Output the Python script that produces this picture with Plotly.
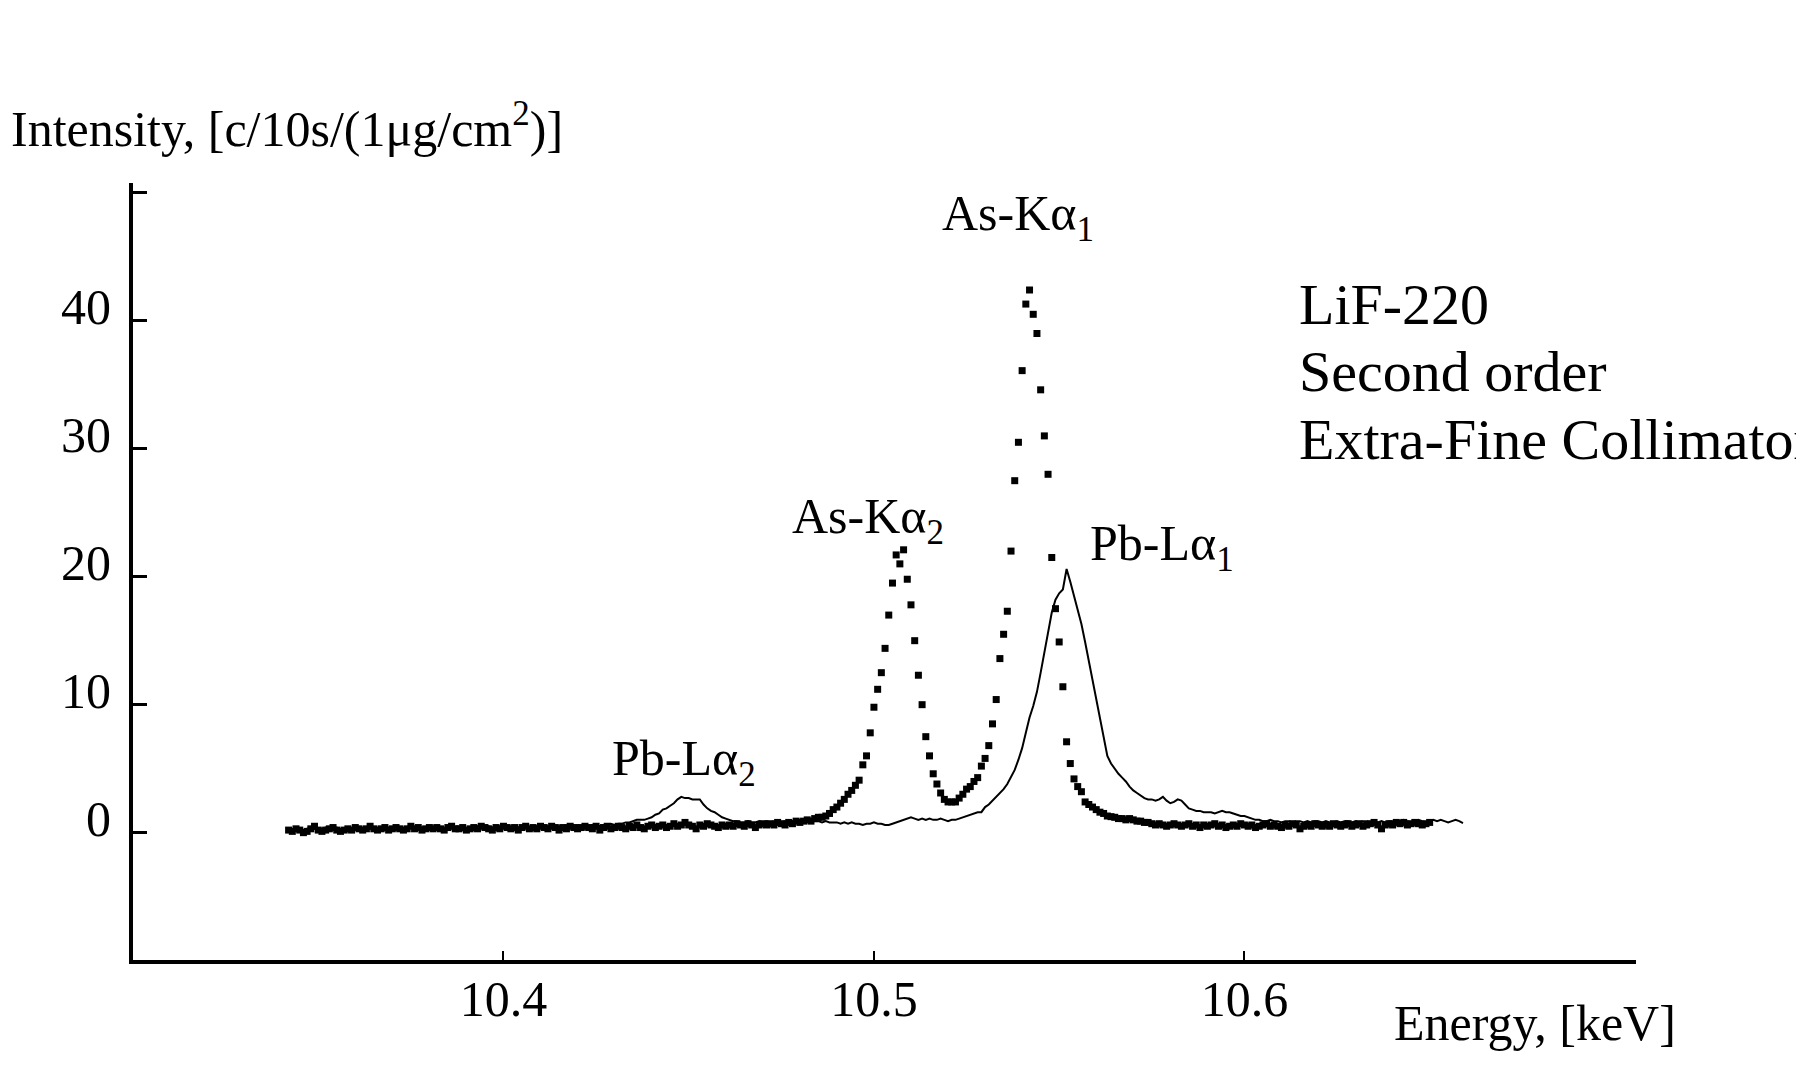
import plotly.graph_objects as go

# ---- data ----
energy_start = 10.342   # keV
energy_step = 0.001     # keV

as_counts = [
    0.2, 0.1, 0.3, 0.2, 0.0, 0.1, 0.3, 0.5, 0.2, 0.1,
    0.2, 0.3, 0.4, 0.2, 0.1, 0.2, 0.3, 0.2, 0.4, 0.3,
    0.2, 0.3, 0.5, 0.3, 0.2, 0.3, 0.4, 0.2, 0.3, 0.4,
    0.3, 0.2, 0.3, 0.5, 0.3, 0.4, 0.2, 0.3, 0.4, 0.3,
    0.4, 0.3, 0.2, 0.4, 0.5, 0.3, 0.3, 0.4, 0.2, 0.3,
    0.4, 0.3, 0.5, 0.4, 0.3, 0.2, 0.4, 0.3, 0.5, 0.4,
    0.3, 0.4, 0.2, 0.4, 0.5, 0.3, 0.4, 0.3, 0.5, 0.4,
    0.3, 0.5, 0.4, 0.2, 0.4, 0.3, 0.5, 0.4, 0.3, 0.4,
    0.5, 0.4, 0.3, 0.5, 0.2, 0.4, 0.5, 0.3, 0.4, 0.5,
    0.4, 0.3, 0.5, 0.4, 0.6, 0.4, 0.3, 0.5, 0.6, 0.4,
    0.5, 0.6, 0.4, 0.5, 0.7, 0.5, 0.6, 0.8, 0.6, 0.5,
    0.3, 0.6, 0.5, 0.7, 0.6, 0.5, 0.4, 0.6, 0.5, 0.6,
    0.5, 0.7, 0.6, 0.5, 0.7, 0.6, 0.4, 0.6, 0.7, 0.6,
    0.7, 0.6, 0.8, 0.7, 0.6, 0.8, 0.7, 0.9, 0.8, 0.9,
    1.0, 0.9, 1.1, 1.2, 1.2, 1.3, 1.5, 1.8, 2.0, 2.3,
    2.6, 3.0, 3.3, 3.7, 4.1, 5.3, 6.0, 7.8, 9.8, 11.2,
    12.5, 14.4, 17.0, 19.5, 21.7, 21.0, 22.1, 19.8, 17.8, 15.0,
    12.3, 10.0, 7.5, 6.0, 4.6, 3.8, 3.1, 2.6, 2.4, 2.4,
    2.4, 2.7, 3.0, 3.4, 3.6, 4.0, 4.3, 5.2, 5.8, 6.8,
    8.5, 10.4, 13.6, 15.5, 17.3, 22.0, 27.5, 30.5, 36.1, 41.3,
    42.4, 40.5, 39.0, 34.6, 31.0, 28.0, 21.5, 17.5, 14.9, 11.4,
    7.1, 5.4, 4.2, 3.6, 3.2, 2.4, 2.2, 2.0, 1.8, 1.6,
    1.5, 1.3, 1.25, 1.2, 1.1, 1.1, 1.0, 1.1, 1.0, 0.9,
    0.9, 0.8, 0.8, 0.7, 0.6, 0.7, 0.6, 0.5, 0.6, 0.7,
    0.6, 0.5, 0.6, 0.7, 0.5, 0.6, 0.4, 0.6, 0.5, 0.6,
    0.7, 0.5, 0.6, 0.4, 0.5, 0.6, 0.5, 0.7, 0.6, 0.5,
    0.6, 0.4, 0.5, 0.6, 0.7, 0.5, 0.6, 0.5, 0.4, 0.6,
    0.5, 0.7, 0.6, 0.3, 0.5, 0.6, 0.5, 0.7, 0.6, 0.5,
    0.6, 0.5, 0.7, 0.6, 0.5, 0.6, 0.7, 0.5, 0.6, 0.7,
    0.5, 0.6, 0.7, 0.8, 0.6, 0.3, 0.6, 0.7, 0.6, 0.8,
    0.7, 0.8, 0.6, 0.7, 0.8, 0.7, 0.6, 0.7, 0.8,
]

pb_counts = [
    0.3, 0.2, 0.4, 0.3, 0.2, 0.3, 0.4, 0.3, 0.2, 0.3,
    0.4, 0.3, 0.3, 0.4, 0.3, 0.2, 0.4, 0.3, 0.4, 0.3,
    0.3, 0.4, 0.3, 0.4, 0.3, 0.4, 0.3, 0.4, 0.4, 0.3,
    0.4, 0.3, 0.4, 0.4, 0.3, 0.4, 0.4, 0.3, 0.4, 0.4,
    0.4, 0.4, 0.3, 0.4, 0.5, 0.4, 0.4, 0.4, 0.3, 0.4,
    0.4, 0.5, 0.4, 0.4, 0.5, 0.4, 0.4, 0.5, 0.4, 0.5,
    0.4, 0.5, 0.4, 0.5, 0.5, 0.4, 0.5, 0.5, 0.4, 0.5,
    0.5, 0.5, 0.4, 0.5, 0.5, 0.6, 0.5, 0.5, 0.6, 0.5,
    0.6, 0.5, 0.6, 0.6, 0.5, 0.6, 0.6, 0.7, 0.6, 0.7,
    0.7, 0.8, 0.8, 0.9, 1.0, 1.0, 1.0, 1.1, 1.2, 1.4,
    1.5, 1.8, 1.9, 2.1, 2.3, 2.6, 2.8, 2.7, 2.7, 2.6,
    2.6, 2.6, 2.2, 1.9, 1.7, 1.6, 1.4, 1.2, 1.1, 1.0,
    0.9, 0.9, 0.8, 0.8, 0.9, 0.8, 0.8, 0.9, 0.8, 0.9,
    0.8, 0.9, 0.9, 0.8, 0.9, 0.8, 0.9, 0.9, 0.8, 0.9,
    0.9, 0.8, 0.9, 0.9, 0.8, 0.9, 0.8, 0.8, 0.8, 0.7,
    0.8, 0.7, 0.8, 0.7, 0.7, 0.6, 0.7, 0.7, 0.8, 0.7,
    0.7, 0.6, 0.6, 0.7, 0.8, 0.9, 1.0, 1.1, 1.2, 1.1,
    1.0, 1.1, 1.0, 1.1, 1.0, 1.0, 1.1, 1.0, 0.9, 1.0,
    1.0, 1.1, 1.2, 1.3, 1.4, 1.5, 1.6, 1.6, 2.0, 2.2,
    2.5, 2.8, 3.1, 3.4, 3.8, 4.3, 4.9, 5.7, 6.6, 7.8,
    9.0, 9.9, 11.0, 12.5, 14.0, 15.6, 17.2, 18.2, 18.7, 19.0,
    20.6, 19.6, 18.5, 17.4, 16.3, 14.9, 13.4, 11.9, 10.5, 9.0,
    7.5, 6.0, 5.4, 5.0, 4.6, 4.3, 4.0, 3.6, 3.3, 3.1,
    2.9, 2.7, 2.6, 2.6, 2.5, 2.6, 2.8, 2.5, 2.3, 2.4,
    2.6, 2.5, 2.2, 1.9, 1.8, 1.7, 1.7, 1.6, 1.6, 1.6,
    1.5, 1.6, 1.7, 1.6, 1.6, 1.5, 1.4, 1.3, 1.3, 1.2,
    1.1, 1.0, 1.0, 0.9, 0.9, 1.0, 0.9, 0.9, 0.8, 0.9,
    0.9, 0.8, 0.9, 0.9, 0.8, 0.9, 0.8, 0.9, 0.9, 0.8,
    0.9, 0.8, 0.8, 0.9, 0.8, 0.9, 0.9, 0.8, 0.9, 0.8,
    0.9, 0.9, 0.8, 0.9, 0.8, 0.9, 0.8, 0.9, 0.9, 0.8,
    0.9, 1.0, 0.9, 0.8, 0.9, 1.0, 0.9, 0.8, 0.9, 1.0,
    0.9, 1.0, 0.9, 0.8, 0.9, 1.0, 0.9, 0.75,
]

y_tick_values = [0, 10, 20, 30, 40, 50]
y_tick_labels = ["0", "10", "20", "30", "40", ""]
x_tick_values = [10.4, 10.5, 10.6]
x_tick_labels = ["10.4", "10.5", "10.6"]

as_energy = [round(energy_start + i * energy_step, 4) for i in range(len(as_counts))]
pb_energy = [round(energy_start + i * energy_step, 4) for i in range(len(pb_counts))]

# ---- layout geometry (pixels) ----
W, H = 1796, 1069
L, R, T, B = 133, 1636, 183, 960
FONT = "Liberation Serif, Times New Roman, serif"


def px(x):
    return (x - L) / (R - L)


def py(y):
    return (B - y) / (B - T)


fig = go.Figure()
fig.add_trace(go.Scatter(
    x=pb_energy, y=pb_counts, mode="lines",
    line=dict(color="black", width=2), hoverinfo="skip", name="Pb",
))
fig.add_trace(go.Scatter(
    x=as_energy, y=as_counts, mode="markers",
    marker=dict(symbol="square", size=7, color="black", line=dict(width=0)),
    hoverinfo="skip", name="As",
))

annotations = []


def label(text, left, baseline, size):
    annotations.append(dict(
        text=text, xref="paper", yref="paper",
        x=px(left), y=py(baseline - 0.3 * size),
        xanchor="left", yanchor="middle", showarrow=False,
        font=dict(family=FONT, size=size, color="black"),
    ))


label("Intensity, [c/10s/(1μg/cm<sup>2</sup>)]", 9, 141, 50)
label("As-Kα<sub>1</sub>", 940, 232, 50)
label("As-Kα<sub>2</sub>", 790, 535, 50)
label("Pb-Lα<sub>1</sub>", 1088, 562, 50)
label("Pb-Lα<sub>2</sub>", 610, 777, 50)
label("Energy, [keV]", 1392, 1038, 50)
label("LiF-220", 1297, 322, 58)
label("Second order", 1297, 389, 58)
label("Extra-Fine Collimator", 1297, 457, 58)

fig.update_layout(
    width=W, height=H,
    margin=dict(l=L, r=W - R, t=T, b=H - B, pad=0),
    paper_bgcolor="white", plot_bgcolor="white",
    showlegend=False,
    annotations=annotations,
    font=dict(family=FONT, color="black"),
)
fig.update_xaxes(
    range=[10.300, 10.7057], showgrid=False, zeroline=False,
    showline=True, linecolor="black", linewidth=4,
    ticks="inside", ticklen=9, tickwidth=2, tickcolor="black",
    tickvals=x_tick_values, ticktext=x_tick_labels,
    tickfont=dict(family=FONT, size=50, color="black"),
    ticklabelstandoff=-8,
)
fig.update_yaxes(
    range=[-9.95, 50.76], showgrid=False, zeroline=False,
    showline=True, linecolor="black", linewidth=4,
    ticks="inside", ticklen=14, tickwidth=3, tickcolor="black",
    tickvals=y_tick_values, ticktext=y_tick_labels,
    tickfont=dict(family=FONT, size=50, color="black"),
    ticklabelstandoff=8,
    ticklabelshift=-14,
)

fig.write_html("out.html")
